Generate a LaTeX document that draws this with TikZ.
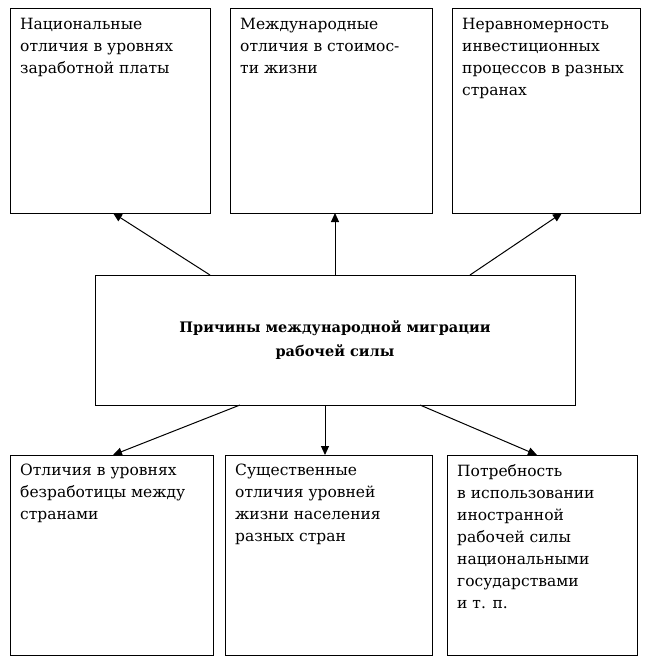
\documentclass[tikz,border=0pt]{standalone}
\usepackage{fontspec}
\setmainfont{DejaVu Serif}
\usetikzlibrary{arrows.meta}
\begin{document}
\begin{tikzpicture}[x=1pt,y=-1pt,
  box/.style={draw,line width=0.8pt},
  txt/.style={anchor=north west,align=left,font=\fontsize{15.5}{22}\selectfont,inner sep=0pt},
  arr/.style={-{Triangle[length=9pt,width=8pt]},line width=1pt}]
\useasboundingbox (0,0) rectangle (647,665);
\fill[white] (0,0) rectangle (647,665);
\draw[box] (10,8) rectangle (210,213);
\draw[box] (230,8) rectangle (432,213);
\draw[box] (452,8) rectangle (640,213);
\draw[box] (95,275) rectangle (575,405);
\draw[box] (10,455) rectangle (213,655);
\draw[box] (225,455) rectangle (432,655);
\draw[box] (447,455) rectangle (637,655);
\node[txt] (a) at (20,18) {Национальные\\отличия в уровнях\\заработной платы};
\node[txt] (b) at (240,18) {Международные\\отличия в стоимос-\\ти жизни};
\node[txt] (c) at (462,18) {Неравномерность\\инвестиционных\\процессов в разных\\странах};
\node[align=center,font=\fontsize{14.5}{24}\selectfont\bfseries] (m) at (335,340) {Причины международной миграции\\рабочей силы};
\node[txt] (d) at (20,464) {Отличия в уровнях\\безработицы между\\странами};
\node[txt] (e) at (235,464) {Существенные\\отличия уровней\\жизни населения\\разных стран};
\node[txt] (f) at (457,464) {Потребность\\в использовании\\иностранной\\рабочей силы\\национальными\\государствами\\и т. п.};
\coordinate (m1) at (210,275); \coordinate (a1) at (113,213);
\coordinate (m2) at (335,275); \coordinate (b1) at (335,213);
\coordinate (m3) at (470,275); \coordinate (c1) at (562,213);
\coordinate (m4) at (240,405); \coordinate (d1) at (113,455);
\coordinate (m5) at (325,405); \coordinate (e1) at (325,455);
\coordinate (m6) at (420,405); \coordinate (f1) at (537,455);
\draw[arr] (m1)--(a1); \draw[arr] (m2)--(b1); \draw[arr] (m3)--(c1);
\draw[arr] (m4)--(d1); \draw[arr] (m5)--(e1); \draw[arr] (m6)--(f1);
\end{tikzpicture}
\end{document}
